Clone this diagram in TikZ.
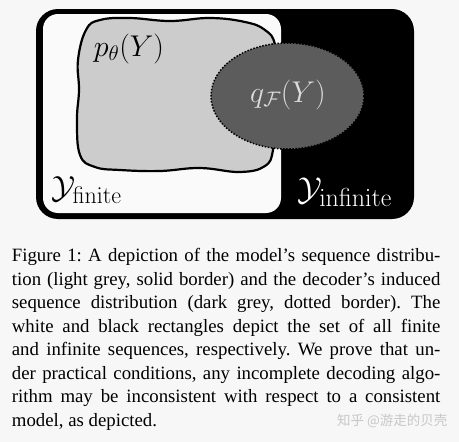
\RequirePackage{fix-cm}
\documentclass[tikz,border=0pt]{standalone}
\usepackage[no-math]{fontspec}
\setmainfont{Liberation Serif}
\newfontfamily\cjkfont{Noto Sans CJK SC}
\usepackage{tikz}
\DeclareMathSizes{32}{32}{24}{18}
\DeclareMathSizes{33}{33}{26}{19}

\newcommand{\capline}[1]{\makebox[428.5pt][s]{#1}}

\tikzset{
  setlabel/.style={inner sep=0pt,font=\fontsize{32}{36}\selectfont},
  distlabel/.style={inner sep=0pt,font=\fontsize{30}{34}\selectfont},
}

\begin{document}
\begin{tikzpicture}[x=1pt,y=-1pt]
  \useasboundingbox[fill=black!3] (0,0) rectangle (459,442);
%Infinite set
  \fill[black,rounded corners=22pt] (36,9) rectangle (414,219);
%Finite set
  \fill[black!2,rounded corners=15pt] (43,14) rectangle (281,213);
% model distribution
  \draw[line width=2.2pt,fill=black!20] plot[smooth cycle,tension=0.7] coordinates {
    (78,60) (86,30) (100,20) (130,18) (170,21) (210,18) (245,22) (265,30)
    (275,45) (276,80) (274,120) (273,150) (265,166) (240,172) (200,168)
    (160,171) (120,170) (95,167) (80,155) (77,120) (79,90)};
  \node[distlabel] (ptheta) at (129,48.5) {$p_\theta(Y)$};
% decoder distribution
  \draw[fill=black!64,line width=1.5pt,dash pattern=on 1.5pt off 1.6pt] (287.5,96) ellipse [x radius=76.5,y radius=53];
  \node[distlabel,text=black!14] (qF) at (288,95) {$q_{\mathcal{F}}(Y)$};
% set labels
  \node[setlabel,anchor=base west] (yfin) at (51,198) {$\mathcal{Y}_{\mathrm{finite}}$};
  \node[setlabel,font=\fontsize{33}{36}\selectfont,anchor=base west,text=white] (yinf) at (297,200) {$\mathcal{Y}_{\mathrm{infinite}}$};
%Caption
  \node[anchor=north west,inner sep=0pt,align=left,
        font=\fontsize{18.8}{23.5}\selectfont\frenchspacing] (caption) at (11.7,248.5) {%
    \capline{Figure 1: A depiction of the model’s sequence distribu-}\\
    \capline{tion (light grey, solid border) and the decoder’s induced}\\
    \capline{sequence distribution (dark grey, dotted border). The}\\
    \capline{white and black rectangles depict the set of all finite}\\
    \capline{and infinite sequences, respectively. We prove that un-}\\
    \capline{der practical conditions, any incomplete decoding algo-}\\
    \capline{rithm may be inconsistent with respect to a consistent}\\
    model, as depicted.};
%watermark
  \node[anchor=west,inner sep=0pt,text=black!22,font=\cjkfont\fontsize{13.5}{14}\selectfont] (mark) at (337,421) {知乎 @游走的贝壳};
\end{tikzpicture}
\end{document}
